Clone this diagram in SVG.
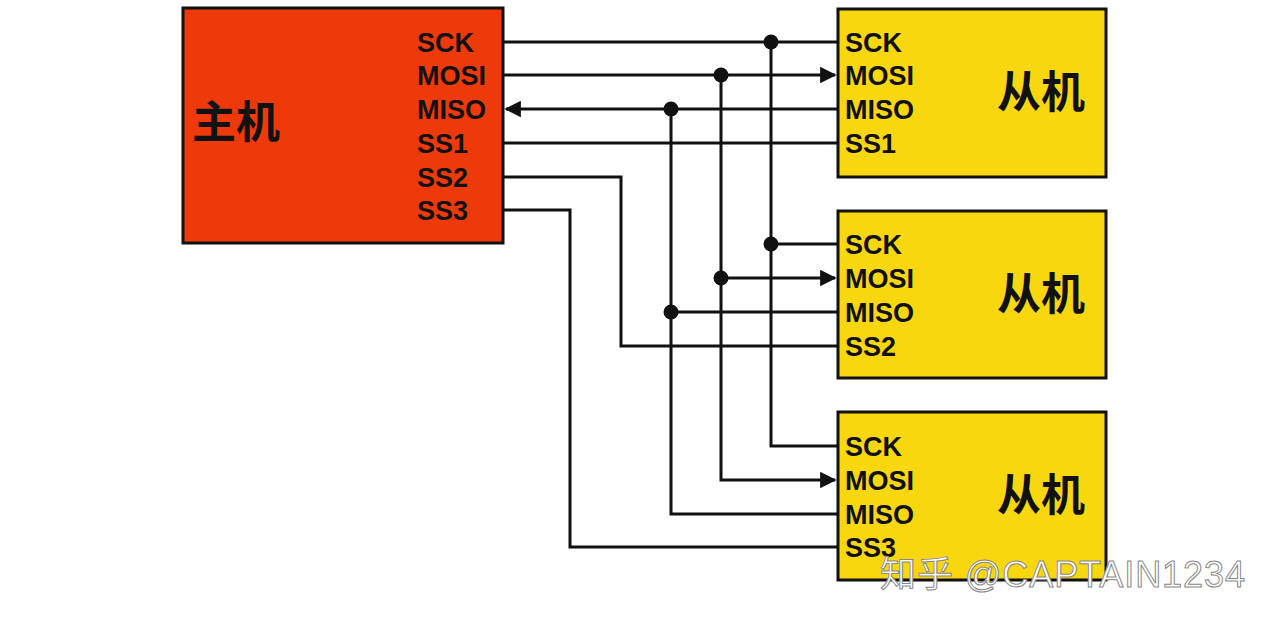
<svg xmlns="http://www.w3.org/2000/svg" width="1278" height="624" viewBox="0 0 1278 624">
<defs>
<style>
.m{fill:#EE3A0A;stroke:#111;stroke-width:3}
.s{fill:#F9D70F;stroke:#111;stroke-width:3}
.p{font-family:"Liberation Sans",Arial,sans-serif;font-size:27px;font-weight:bold;fill:#111}
.t{font-family:"Noto Sans CJK SC",sans-serif;font-size:44px;font-weight:bold;fill:#111}
.w{fill:none;stroke:#111;stroke-width:3}
.wm{font-family:"Liberation Sans","Noto Sans CJK SC",sans-serif;font-size:36px;fill:#fff;stroke:#888;stroke-width:1}
</style>
<marker id="a" viewBox="0 0 10 10" refX="9" refY="5" markerWidth="5.5" markerHeight="5.5" orient="auto-start-reverse" markerUnits="strokeWidth"><path d="M0 0L10 5L0 10z" fill="#111"/></marker>
</defs>
<rect width="1278" height="624" fill="#fff"/>
<g id="master"><rect class="m" x="183" y="8" width="320" height="235"/>
<text class="t" x="192" y="138">主机</text>
<g class="p"><text x="417" y="52">SCK</text><text x="417" y="85">MOSI</text><text x="417" y="119">MISO</text><text x="417" y="153">SS1</text><text x="417" y="187">SS2</text><text x="417" y="220">SS3</text></g></g>
<g id="slave1"><rect class="s" x="838" y="9" width="268" height="168"/>
<text class="t" x="997" y="108">从机</text>
<g class="p"><text x="845" y="52">SCK</text><text x="845" y="85">MOSI</text><text x="845" y="119">MISO</text><text x="845" y="153">SS1</text></g></g>
<g id="slave2"><rect class="s" x="838" y="211" width="268" height="167"/>
<text class="t" x="997" y="310">从机</text>
<g class="p"><text x="845" y="254">SCK</text><text x="845" y="288">MOSI</text><text x="845" y="322">MISO</text><text x="845" y="356">SS2</text></g></g>
<g id="slave3"><rect class="s" x="838" y="412" width="268" height="168"/>
<text class="t" x="997" y="511">从机</text>
<g class="p"><text x="845" y="456">SCK</text><text x="845" y="490">MOSI</text><text x="845" y="524">MISO</text><text x="845" y="557">SS3</text></g></g>
<g id="connectors">
<path class="w" d="M503 42H838"/>
<path class="w" d="M503 75H835" marker-end="url(#a)"/>
<path class="w" d="M838 109H506" marker-end="url(#a)"/>
<path class="w" d="M503 143H838"/>
<path class="w" d="M503 177H621V346H838"/>
<path class="w" d="M503 210H570V547H838"/>
<path class="w" d="M771 42V446H838M771 244H838"/>
<path class="w" d="M721 75V480H835" marker-end="url(#a)"/>
<path class="w" d="M721 278H835" marker-end="url(#a)"/>
<path class="w" d="M671 109V514H838M671 312H838"/>
<g fill="#111"><circle cx="771" cy="42" r="7.5"/><circle cx="721" cy="75" r="7.5"/><circle cx="671" cy="109" r="7.5"/><circle cx="771" cy="244" r="7.5"/><circle cx="721" cy="278" r="7.5"/><circle cx="671" cy="312" r="7.5"/></g>
</g>
<text class="wm" x="880" y="587" textLength="365">知乎 @CAPTAIN1234</text>
</svg>
